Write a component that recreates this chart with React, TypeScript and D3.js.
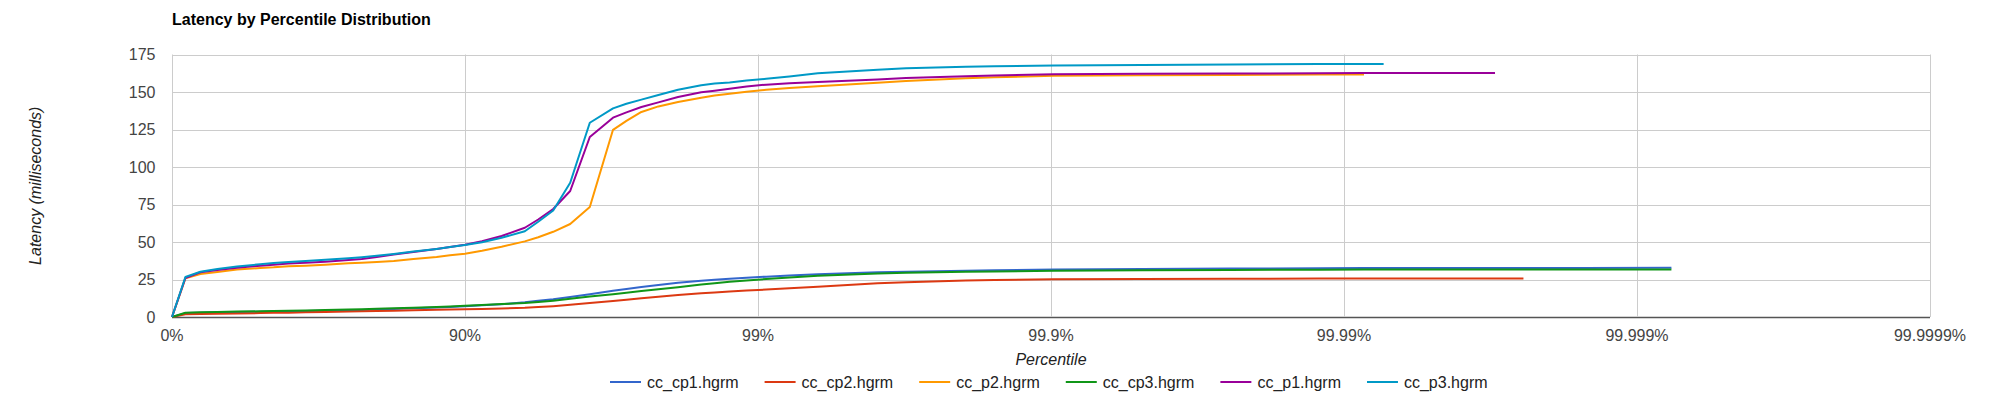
import React from "react";
import * as d3 from "d3";

// HdrHistogram percentile ticks (x axis categories)
const PERCENTILES = [
  0, 0.1, 0.2, 0.3, 0.4, 0.5, 0.55, 0.6, 0.65, 0.7,
  0.75, 0.775, 0.8, 0.825, 0.85, 0.875, 0.8875, 0.9, 0.9125, 0.925,
  0.9375, 0.94375, 0.95, 0.95625, 0.9625, 0.96875, 0.971875, 0.975, 0.978125, 0.98125,
  0.984375, 0.9859375, 0.9875, 0.9890625, 0.990625, 0.9921875, 0.99375, 0.99609375, 0.996875, 0.99804688,
  0.9984375, 0.99902344, 0.99951172, 0.99975586, 0.99987793, 0.99991455, 0.99992676, 0.99993896, 0.99996948, 0.99997559,
  0.99998474, 0.99999237,
];

const CC_CP1 = [
  0, 2.6, 2.9, 3.1, 3.3, 3.5, 3.6, 3.8, 4, 4.2,
  4.5, 4.7, 5, 5.4, 5.8, 6.3, 6.7, 7.2, 7.8, 8.5,
  9.8, 10.8, 11.8, 13.3, 15.1, 17.5, 18.7, 20, 21.3, 22.9,
  24.2, 24.8, 25.5, 26.2, 26.9, 27.7, 28.5, 29.8, 30.2, 30.9,
  31.2, 31.6, 32, 32.3, 32.5, 32.6, 32.6, 32.7, 32.7, 32.7,
  32.7, 32.8,
];
const CC_CP2 = [
  0, 1.8, 2, 2.2, 2.4, 2.6, 2.8, 2.9, 3.1, 3.3,
  3.6, 3.8, 4, 4.2, 4.5, 4.8, 5, 5.2, 5.4, 5.7,
  6.1, 6.6, 7.2, 8.1, 9.3, 10.6, 11.5, 12.5, 13.5, 14.6,
  15.8, 16.4, 17, 17.6, 18.3, 19.2, 20.2, 22.5, 23.2, 24.3,
  24.7, 25.1, 25.4, 25.5, 25.6, 25.6, 25.6, 25.6, 25.6, 25.6,
];
const CC_P2 = [
  0, 25.8, 28.7, 30, 31.6, 32.7, 33.1, 33.8, 34.2, 34.9,
  35.8, 36.2, 36.6, 37.3, 38.7, 40, 41.1, 42.2, 44.1, 46.8,
  50.4, 53.2, 56.8, 62, 73.3, 124.8, 130.7, 136.7, 140.4, 143.3,
  146.2, 147.6, 148.9, 150.2, 151.5, 152.7, 153.8, 156.2, 157.3, 159.1,
  159.8, 160.9, 161.2, 161.4, 161.6, 161.7,
];
const CC_CP3 = [
  0, 2.8, 3.1, 3.3, 3.6, 3.8, 4, 4.2, 4.4, 4.6,
  5, 5.2, 5.5, 5.8, 6.2, 6.7, 7, 7.5, 8, 8.6,
  9.3, 10, 10.9, 12.1, 13.6, 15.2, 16.2, 17.4, 18.5, 19.9,
  21.6, 22.5, 23.5, 24.4, 25.3, 26.4, 27.5, 29, 29.5, 30.1,
  30.4, 30.8, 31.2, 31.4, 31.5, 31.6, 31.6, 31.6, 31.7, 31.7,
  31.7, 31.7,
];
const CC_P1 = [
  0, 26, 29.8, 31.3, 32.9, 34.2, 34.9, 35.6, 36.2, 36.9,
  38, 38.7, 40, 41.6, 43.3, 45.3, 46.6, 48.2, 50.5, 54,
  59.5, 65, 72, 84, 120, 132.9, 136.4, 140, 143.1, 146.7,
  149.8, 150.9, 152.2, 153.6, 154.9, 155.8, 156.6, 158.4, 159.3, 160.5,
  161, 161.8, 162.1, 162.3, 162.5, 162.6, 162.6, 162.7, 162.7,
];
const CC_P3 = [
  0, 26.7, 30.2, 32, 33.6, 35.2, 36, 36.7, 37.3, 38.2,
  39.1, 39.8, 40.8, 42, 43.6, 45.4, 46.6, 48, 49.8, 52.8,
  57.2, 63.5, 71, 89.5, 129.5, 139.1, 142.2, 144.9, 148, 151.5,
  154.5, 155.6, 156.4, 157.6, 158.8, 160.4, 162.5, 164.8, 165.8, 166.8,
  167.1, 167.6, 168, 168.3, 168.6, 168.7, 168.7,
];

const SERIES_NAMES = ["cc_cp1.hgrm", "cc_cp2.hgrm", "cc_p2.hgrm", "cc_cp3.hgrm", "cc_p1.hgrm", "cc_p3.hgrm"];
const SERIES_VALUES = [CC_CP1, CC_CP2, CC_P2, CC_CP3, CC_P1, CC_P3];
const COLORS = ["#3366cc", "#dc3912", "#ff9900", "#109618", "#990099", "#0099c6"];

const X_TICK_PCTS = [0, 0.9, 0.99, 0.999, 0.9999, 0.99999, 0.999999];
const X_TICK_LABELS = ["0%", "90%", "99%", "99.9%", "99.99%", "99.999%", "99.9999%"];
const Y_TICKS = [0, 25, 50, 75, 100, 125, 150, 175];

const TITLE = "Latency by Percentile Distribution";
const X_TITLE = "Percentile";
const Y_TITLE = "Latency (milliseconds)";

const FONT = "'Liberation Sans', Arial, sans-serif";

function measure(text: string, font: string): number {
  const c = document.createElement("canvas").getContext("2d");
  if (!c) return text.length * 8;
  c.font = font;
  return c.measureText(text).width;
}

export default function App() {
  const W = 2000, H = 394;
  const left = 172, right = 1930, top = 54.5, bottom = 317;
  const x = d3.scaleLog().domain([1, 1e6]).range([left, right]);
  const y = d3.scaleLinear().domain([0, 175]).range([bottom, top]);
  const px = (p: number) => x(1 / (1 - p));

  const line = d3
    .line<number>()
    .x((_, i) => px(PERCENTILES[i]))
    .y((v) => y(v));

  // legend layout
  const legFont = `16px ${FONT}`;
  let lx = 610;
  const legendItems = SERIES_NAMES.map((name, i) => {
    const item = { name, color: COLORS[i], x: lx };
    lx += 37 + measure(name, legFont) + 26;
    return item;
  });

  return (
    <svg
      width={W}
      height={H}
      style={{ position: "absolute", left: 0, top: 0, display: "block", background: "#fff" }}
      fontFamily={FONT}
    >
      <rect x={0} y={0} width={W} height={H} fill="#fff" />
      <text x={left} y={25} fontSize={16} fontWeight="bold" fill="#000">
        {TITLE}
      </text>

      {/* horizontal gridlines */}
      {Y_TICKS.map((t) => (
        <line
          key={"gy" + t}
          x1={left}
          x2={right}
          y1={Math.round(y(t)) + 0.5}
          y2={Math.round(y(t)) + 0.5}
          stroke={t === 0 ? "#555" : "#cccccc"}
          strokeWidth={t === 0 ? 1.5 : 1}
        />
      ))}
      {/* vertical gridlines */}
      {X_TICK_PCTS.map((p, i) => (
        <line
          key={"gx" + i}
          x1={Math.round(px(p)) + 0.5}
          x2={Math.round(px(p)) + 0.5}
          y1={y(175)}
          y2={y(0)}
          stroke="#cccccc"
          strokeWidth={1}
        />
      ))}

      {/* y tick labels */}
      {Y_TICKS.map((t) => (
        <text key={"ly" + t} x={155.5} y={y(t) + 5.5} fontSize={16} fill="#444" textAnchor="end">
          {t}
        </text>
      ))}
      {/* x tick labels */}
      {X_TICK_PCTS.map((p, i) => (
        <text key={"lx" + i} x={px(p)} y={341} fontSize={16} fill="#444" textAnchor="middle">
          {X_TICK_LABELS[i]}
        </text>
      ))}

      {/* series */}
      {SERIES_VALUES.map((vals, i) => (
        <path
          key={"s" + i}
          d={line(vals) || ""}
          fill="none"
          stroke={COLORS[i]}
          strokeWidth={2}
          strokeLinejoin="round"
        />
      ))}

      {/* axis titles */}
      <text x={(left + right) / 2} y={365} fontSize={16} fontStyle="italic" fill="#222" textAnchor="middle">
        {X_TITLE}
      </text>
      <text
        transform={`translate(41,${(top + bottom) / 2}) rotate(-90)`}
        fontSize={16}
        fontStyle="italic"
        fill="#222"
        textAnchor="middle"
      >
        {Y_TITLE}
      </text>

      {/* legend */}
      {legendItems.map((it) => (
        <g key={it.name}>
          <line x1={it.x} x2={it.x + 31} y1={382} y2={382} stroke={it.color} strokeWidth={2} />
          <text x={it.x + 37} y={387.5} fontSize={16} fill="#222">
            {it.name}
          </text>
        </g>
      ))}
    </svg>
  );
}
